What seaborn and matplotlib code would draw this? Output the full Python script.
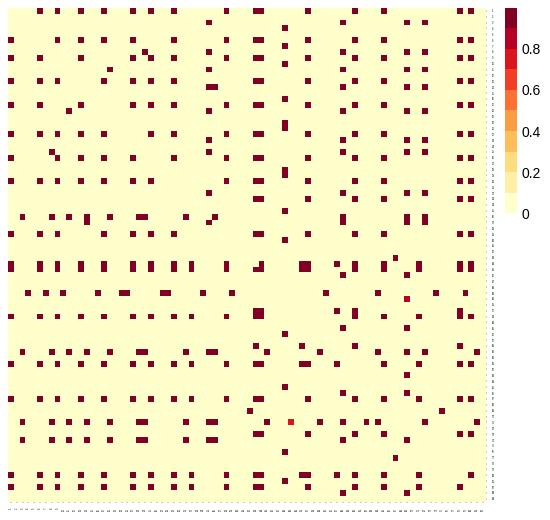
import numpy as np
import pandas as pd
import matplotlib
matplotlib.use("Agg")
import matplotlib.pyplot as plt
import seaborn as sns

plt.rcParams["font.family"] = ["Liberation Sans", "DejaVu Sans"]

n_rows = 84
n_cols = 82

# column groups that repeat across the matrix
grp_b = [42, 43, 51, 59, 64, 77, 79]
grp_c = [57, 68, 71]
grp_d = [0, 5, 8, 12, 16, 21, 24, 28, 31, 37]
grp_e = [2, 7, 10, 13, 17, 22, 23, 30, 34, 35]

# row -> columns with value 1
cells = {
    0: [5, 8, 12, 16, 21, 24, 28, 37] + grp_b,
    2: [34] + grp_c,
    3: [47],
    5: [0, 8, 12, 16, 21, 28, 37] + grp_b,
    6: [47],
    7: [23, 34] + grp_c,
    8: [0, 5, 12, 21, 24, 28, 37] + grp_b,
    9: [47],
    10: [17, 34] + grp_c,
    12: [0, 5, 8, 16, 21, 24, 28] + grp_b,
    13: [34, 35] + grp_c,
    15: [47],
    16: [0, 5, 12, 21, 24, 28, 37] + grp_b,
    17: [10, 34] + grp_c,
    19: [47],
    20: [47],
    21: [0, 5, 8, 12, 16, 24, 28, 37] + grp_b,
    22: [34] + grp_c,
    24: [7, 34] + grp_c,
    25: [0, 8, 12, 16, 21, 28, 37] + grp_b,
    27: [47],
    28: [47],
    29: [0, 5, 8, 12, 16, 21, 24, 37] + grp_b,
    31: [34] + grp_c,
    32: grp_b,
    34: [47],
    35: [2, 7, 10, 13, 17, 22, 23, 30, 35] + grp_c,
    36: [13, 34] + grp_c,
    38: [0, 5, 8, 16, 21, 24, 28] + grp_b,
    39: [47],
    42: [66],
    43: grp_d + [43, 50, 51, 56, 59, 64, 70, 77, 79],
    44: grp_d + [42, 43, 50, 51, 59, 64, 70, 77, 79],
    45: [57, 68],
    48: [3, 6, 9, 15, 19, 20, 26, 27, 33, 38, 54, 63, 73, 78],
    51: [42, 43, 56, 59, 77],
    52: grp_d + [42, 43, 59, 64, 70, 77, 79],
    54: [57, 68],
    55: [47],
    57: [42, 50, 59, 77],
    58: grp_e + [44, 53, 63, 68, 71, 80],
    60: grp_d + [42, 43, 50, 51, 56, 64, 70, 77, 79],
    62: [68],
    64: [47],
    65: [57, 68],
    66: grp_d + grp_b + [70],
    68: [41, 74],
    70: grp_e + [44, 53, 57, 61, 63, 71, 80],
    72: grp_b,
    73: grp_e + [57, 68],
    75: [47],
    76: [66],
    79: grp_d + [42, 43, 50, 51, 56, 59, 64, 70, 79],
    80: [47],
    81: grp_d + [42, 43, 51, 59, 64, 70, 77],
    82: [57, 68],
}
# cells with intermediate values
partial = {(49, 68): 0.8, (70, 48): 0.75}

mat = np.zeros((n_rows, n_cols))
for r, cols in cells.items():
    for c in cols:
        mat[r, c] = 1.0
for (r, c), v in partial.items():
    mat[r, c] = v

df = pd.DataFrame(mat, index=[str(i + 1) for i in range(n_rows)],
                  columns=[str(i + 1) for i in range(n_cols)])

fig = plt.figure(figsize=(5.5, 5.2), dpi=100)
ax = fig.add_axes([0.0145, 0.035, 0.869, 0.95])
cax = fig.add_axes([0.918, 0.59, 0.022, 0.395])

cmap = plt.get_cmap("YlOrRd", 10)
sns.heatmap(df, ax=ax, cbar_ax=cax, cmap=cmap, vmin=0, vmax=1,
            xticklabels=True, yticklabels=True)

ax.yaxis.tick_right()
ax.tick_params(axis="both", length=1, width=0.3, labelsize=1.8)
plt.setp(ax.get_yticklabels(), rotation=0)
plt.setp(ax.get_xticklabels(), rotation=90)

cax.set_yticks([0, 0.2, 0.4, 0.6, 0.8])
cax.set_yticklabels(["0", "0.2", "0.4", "0.6", "0.8"])
cax.tick_params(length=0, labelsize=10)

fig.savefig("out.png", dpi=100)
